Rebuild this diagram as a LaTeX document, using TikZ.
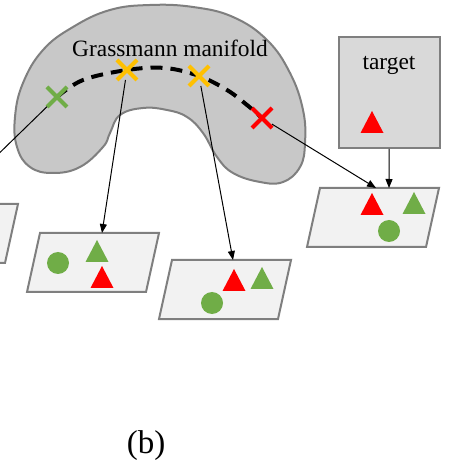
\documentclass[tikz,border=0pt]{standalone}
\usepackage{fontspec}
\setmainfont{Liberation Serif}
\usetikzlibrary{arrows.meta,shapes.misc}

\definecolor{gcol}{HTML}{70AD47}
\definecolor{rcol}{HTML}{FF0000}
\definecolor{ycol}{HTML}{FFC000}
\definecolor{edgecol}{HTML}{7F7F7F}
\definecolor{planecol}{HTML}{F2F2F2}
\definecolor{blobcol}{HTML}{C8C8C8}
\definecolor{boxcol}{HTML}{D9D9D9}

% triangle with its apex at (#2,#3)
\newcommand{\tri}[3]{\fill[#1] (#2,#3) -- ++(11.5,22) -- ++(-23,0) -- cycle;}
\newcommand{\disc}[3]{\fill[#1] (#2,#3) circle[radius=5.5pt];}

\tikzset{
    plane/.style={draw=edgecol, fill=planecol, line width=1pt},
    xmark/.style={cross out, draw=#1, line width=2pt, minimum size=8pt, inner sep=0pt},
    link/.style={-{Triangle[length=4.5pt,width=3.5pt]}, line width=0.5pt, black}
}

\begin{document}
\begin{tikzpicture}[x=0.5pt,y=-0.5pt]
    \useasboundingbox (0,0) rectangle (474,474);
    \clip (0,0) rectangle (474,474);

    % manifold
    \draw[draw=edgecol, fill=blobcol, line width=1pt] plot[smooth cycle, tension=0.7] coordinates {
        (110,133) (120,115) (143,108) (167,110) (187,117) (203,133) (217,157)
        (233,173) (260,182) (283,182) (300,167) (305,143) (303,110) (290,73)
        (267,40) (233,17) (193,7) (150,5) (110,10) (73,27) (43,50) (23,83)
        (15,117) (17,147) (30,167) (53,173) (80,167) (103,147)};
    \node[font=\fontsize{11.7}{14}\selectfont] (title) at (170,48) {Grassmann manifold};

    % path on the manifold
    \draw[line width=2pt, dash pattern=on 6pt off 4pt] plot[smooth, tension=0.6] coordinates {
        (57,97) (83,80) (127,70) (165,68) (199,76) (227,90) (247,105) (262,118)};
    \node[xmark=gcol] (gx) at (57,97) {};
    \node[xmark=ycol] (y1) at (127,70) {};
    \node[xmark=ycol] (y2) at (199,76) {};
    \node[xmark=rcol] (rx) at (262,118) {};

    % target
    \node[draw=edgecol, fill=boxcol, line width=1pt, minimum width=50.5pt, minimum height=55.5pt, inner sep=0pt] (tgt) at (389.5,92.5) {};
    \node[font=\fontsize{11.7}{14}\selectfont] (tlabel) at (389,65) {target};
    \tri{rcol}{372}{111}

    % domains
    \foreach \x/\y in {-101/204, 40/233, 172/260, 320/188} {
        \draw[plane] (\x,\y) -- ++(119,0) -- ++(-13,59) -- ++(-119,0) -- cycle;
    }
    \coordinate (p0) at (-53,204);
    \coordinate (p1) at (102,233);
    \coordinate (p2) at (233,260);
    \coordinate (p3a) at (376,188);
    \coordinate (p3b) at (389,188);

    \disc{gcol}{58}{263}
    \tri{gcol}{97}{240}
    \tri{rcol}{102}{266}

    \tri{rcol}{234}{269}
    \tri{gcol}{262}{267}
    \disc{gcol}{212}{303}

    \tri{rcol}{372}{193}
    \tri{gcol}{414}{192}
    \disc{gcol}{389}{231}

    % links
    \draw[link] (gx) -- (p0);
    \draw[link] (y1) -- (p1);
    \draw[link] (y2) -- (p2);
    \draw[link] (rx) -- (p3a);
    \draw[link] (tgt) -- (p3b);

    \node[font=\fontsize{16.5}{18}\selectfont] (cap) at (146,446) {(b)};
\end{tikzpicture}
\end{document}
